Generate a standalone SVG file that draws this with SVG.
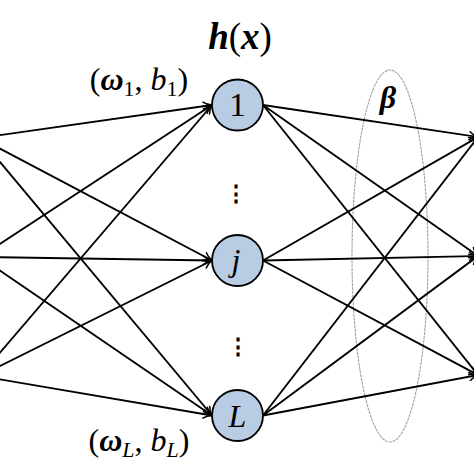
<svg xmlns="http://www.w3.org/2000/svg" width="474" height="474" viewBox="0 0 474 474">
<defs>
<marker id="arr" viewBox="0 0 10 10" refX="10" refY="5" markerWidth="10" markerHeight="10" markerUnits="userSpaceOnUse" orient="auto">
<path d="M1,0.5 Q5,4 10,5 Q5,6 1,9.5" fill="none" stroke="#000" stroke-width="1.5"/>
</marker>
</defs>
<style>
.e{stroke:#000;stroke-width:1.9;fill:none;marker-end:url(#arr)}
.n{fill:#B8CCE4;stroke:#000;stroke-width:1.8}
.t{font-family:"Liberation Serif",serif;fill:#000}
.bi{font-weight:bold;font-style:italic}
.it{font-style:italic}
</style>
<rect width="474" height="474" fill="#fff"/>
<ellipse id="beta-ellipse" cx="390" cy="256" rx="38" ry="186" fill="none" stroke="#a0a0a0" stroke-width="1.1" stroke-dasharray="3 0.8"/>
<g id="connectors">
<line class="e" x1="-20" y1="138" x2="212" y2="105"/>
<line class="e" x1="-20" y1="138" x2="212" y2="260.5"/>
<line class="e" x1="-20" y1="138" x2="212" y2="415.5"/>
<line class="e" x1="-20" y1="257" x2="212" y2="105"/>
<line class="e" x1="-20" y1="257" x2="212" y2="260.5"/>
<line class="e" x1="-20" y1="257" x2="212" y2="415.5"/>
<line class="e" x1="-20" y1="376" x2="212" y2="105"/>
<line class="e" x1="-20" y1="376" x2="212" y2="260.5"/>
<line class="e" x1="-20" y1="376" x2="212" y2="415.5"/>
<line class="e" x1="263" y1="105" x2="478" y2="137"/>
<line class="e" x1="263" y1="105" x2="478" y2="256"/>
<line class="e" x1="263" y1="105" x2="478" y2="375"/>
<line class="e" x1="263" y1="260.5" x2="478" y2="137"/>
<line class="e" x1="263" y1="260.5" x2="478" y2="256"/>
<line class="e" x1="263" y1="260.5" x2="478" y2="375"/>
<line class="e" x1="263" y1="415.5" x2="478" y2="137"/>
<line class="e" x1="263" y1="415.5" x2="478" y2="256"/>
<line class="e" x1="263" y1="415.5" x2="478" y2="375"/>
</g>
<g id="node-1">
<circle class="n" cx="237.5" cy="105" r="25.5"/>
<text class="t" x="237.5" y="116" font-size="33" text-anchor="middle">1</text>
</g>
<g id="node-j">
<circle class="n" cx="237.5" cy="260.5" r="25.5"/>
<text class="t it" x="236" y="271" font-size="32" text-anchor="middle">j</text>
</g>
<g id="node-L">
<circle class="n" cx="237.5" cy="415.5" r="25.5"/>
<text class="t it" x="237.5" y="427" font-size="32" text-anchor="middle">L</text>
</g>
<g id="dots">
<text class="t" x="236" y="201" font-size="22" font-weight="bold" text-anchor="middle" font-family="DejaVu Sans, sans-serif">⋮</text>
<text class="t" x="238" y="354" font-size="22" font-weight="bold" text-anchor="middle" font-family="DejaVu Sans, sans-serif">⋮</text>
</g>
<g id="labels">
<text class="t" x="240" y="49" font-size="37" text-anchor="middle"><tspan class="bi">h</tspan>(<tspan class="bi">x</tspan>)</text>
<text class="t" x="139" y="90" font-size="32" text-anchor="middle">(<tspan class="bi">ω</tspan><tspan font-size="22" dy="6">1</tspan><tspan dy="-6">, </tspan><tspan class="it">b</tspan><tspan font-size="22" dy="6">1</tspan><tspan dy="-6">)</tspan></text>
<text class="t" x="139" y="451" font-size="32" text-anchor="middle">(<tspan class="bi">ω</tspan><tspan class="it" font-size="22" dy="6">L</tspan><tspan dy="-6">, </tspan><tspan class="it">b</tspan><tspan class="it" font-size="22" dy="6">L</tspan><tspan dy="-6">)</tspan></text>
<text class="t bi" x="388" y="108" font-size="32" text-anchor="middle">β</text>
</g>
</svg>
